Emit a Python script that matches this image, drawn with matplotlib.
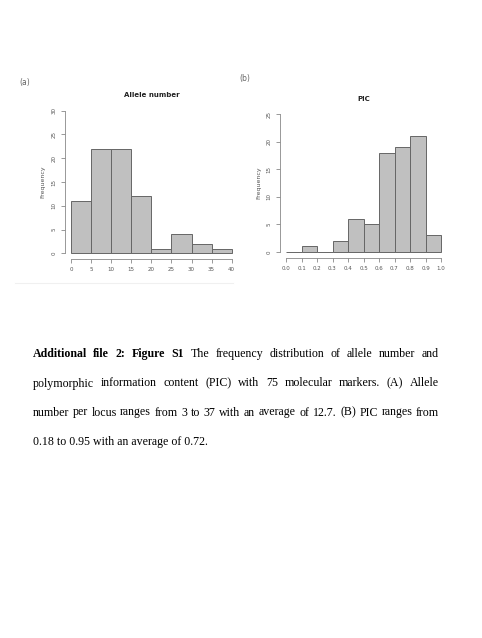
import numpy as np
import matplotlib
matplotlib.use('Agg')
import matplotlib.pyplot as plt

W, H = 482, 638

allele_edges = [0, 5, 10, 15, 20, 25, 30, 35, 40]
allele_counts = [11, 22, 22, 12, 1, 4, 2, 1]
allele_yticks = [0, 5, 10, 15, 20, 25, 30]

pic_edges = [0.0, 0.1, 0.2, 0.3, 0.4, 0.5, 0.6, 0.7, 0.8, 0.9, 1.0]
pic_counts = [0, 1, 0, 2, 6, 5, 18, 19, 21, 3]
pic_yticks = [0, 5, 10, 15, 20, 25]

caption = [
    [("Additional", True), ("file", True), ("2:", True), ("Figure", True), ("S1", True),
     ("The", False), ("frequency", False), ("distribution", False), ("of", False),
     ("allele", False), ("number", False), ("and", False)],
    [(w, False) for w in "polymorphic information content (PIC) with 75 molecular markers. (A) Allele".split()],
    [(w, False) for w in "number per locus ranges from 3 to 37 with an average of 12.7. (B) PIC ranges from".split()],
]
caption_last = "0.18 to 0.95 with an average of 0.72."


def px_axes(fig, x0, y0, x1, y1):
    # pixel box (top-left origin) -> figure axes
    return fig.add_axes([x0 / W, 1 - y1 / H, (x1 - x0) / W, (y1 - y0) / H])


def hist_panel(ax, edges, counts, yticks, xlim, ylim, xticks, xlabels, title):
    edges = np.array(edges)
    ax.bar(edges[:-1], counts, width=np.diff(edges), align='edge',
           color='#c0c0c0', edgecolor='#666666', linewidth=0.7)
    ax.set_xlim(*xlim)
    ax.set_ylim(*ylim)
    for s in ['top', 'right']:
        ax.spines[s].set_visible(False)
    ax.spines['left'].set_bounds(yticks[0], yticks[-1])
    ax.spines['bottom'].set_bounds(xticks[0], xticks[-1])
    for s in ['left', 'bottom']:
        ax.spines[s].set_color('#888888')
        ax.spines[s].set_linewidth(0.6)
    ax.set_yticks(yticks)
    ax.set_yticklabels([str(t) for t in yticks], rotation=90, va='center')
    ax.set_xticks(xticks)
    ax.set_xticklabels(xlabels)
    ax.tick_params(length=3, width=0.6, color='#888888', labelsize=4,
                   labelcolor='#555555', pad=3)
    ax.set_ylabel('Frequency', fontsize=4.5, color='#555555', labelpad=4)
    ax.set_title(title, fontsize=5, fontweight='bold', color='#222222', pad=5.5)
    ax.patch.set_alpha(0)


fig = plt.figure(figsize=(W / 100, H / 100), dpi=100)

ax1 = px_axes(fig, 64.6, 105, 238.1, 259)
hist_panel(ax1, allele_edges, allele_counts, allele_yticks, (-1.6, 41.6), (-1.2, 31.2),
           allele_edges, [str(v) for v in allele_edges], 'Allele number')

ax2 = px_axes(fig, 279.8, 108.8, 447.2, 257.5)
hist_panel(ax2, pic_edges, pic_counts, pic_yticks, (-0.04, 1.04), (-1.0, 26.0),
           pic_edges, ['%.1f' % v for v in pic_edges], 'PIC')

fig.text(25 / W, 1 - 83 / H, '(a)', fontsize=5.5, color='#666666', ha='center', va='center',
         family='DejaVu Sans')
fig.text(245 / W, 1 - 78 / H, '(b)', fontsize=5.5, color='#666666', ha='center', va='center',
         family='DejaVu Sans')

# faint frame line under left panel
fig.add_artist(plt.Line2D([15 / W, 233 / W], [1 - 283.3 / H] * 2, color='#f0f0f0', lw=0.8))

# caption, justified like the source document
FS = 8.6
renderer = fig.canvas.get_renderer()
left, right = 32.7, 439.0
baselines = [357.5, 386.5, 415.5, 445.0]
for words, base in zip(caption, baselines):
    texts = [fig.text(0, 1 - base / H, w, fontsize=FS, family='Liberation Serif',
                      fontweight='bold' if b else 'normal', va='baseline', ha='left')
             for w, b in words]
    widths = [t.get_window_extent(renderer).width for t in texts]
    gap = (right - left - sum(widths)) / (len(words) - 1)
    x = left
    for t, w in zip(texts, widths):
        t.set_x(x / W)
        x += w + gap

fig.text(left / W, 1 - baselines[3] / H, caption_last, fontsize=FS,
         family='Liberation Serif', va='baseline', ha='left')

fig.savefig('out.png', dpi=100, facecolor='white')
